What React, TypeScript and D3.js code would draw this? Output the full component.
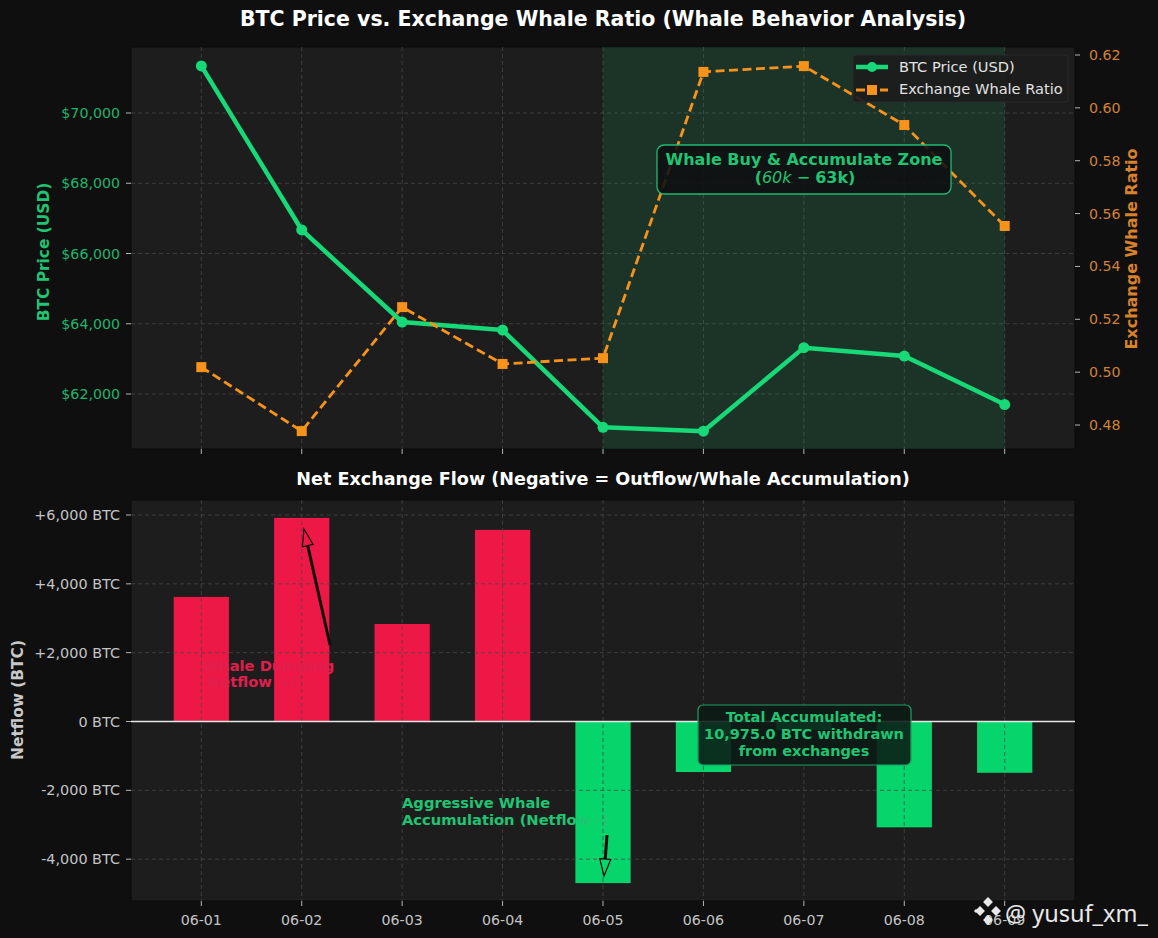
import React, { useEffect, useRef } from 'react';
import * as d3 from 'd3';

const dates = ['06-01', '06-02', '06-03', '06-04', '06-05', '06-06', '06-07', '06-08', '06-09'];
const btcPrice = [71340, 66670, 64050, 63820, 61050, 60940, 63320, 63080, 61700];
const whaleRatio = [0.5019, 0.4777, 0.5246, 0.5031, 0.5053, 0.6136, 0.6158, 0.5935, 0.5553];
const netflow = [3620, 5916, 2834, 5567, -4695, -1468, -250, -3075, -1490];
const priceTicks = [62000, 64000, 66000, 68000, 70000];
const ratioTicks = [0.48, 0.5, 0.52, 0.54, 0.56, 0.58, 0.6, 0.62];
const flowTicks = [-4000, -2000, 0, 2000, 4000, 6000];

const GREEN = '#17d977';
const ORANGE = '#f7931a';
const RED = '#ed1845';
const FONT = '"DejaVu Sans", sans-serif';

const App: React.FC = () => {
  const svgRef = useRef<SVGSVGElement>(null);

  useEffect(() => {
    if (!svgRef.current) return;
    const width = 1158;
    const height = 938;
    const svg = d3.select(svgRef.current)
      .attr('viewBox', `0 0 ${width} ${height}`)
      .style('position', 'fixed')
      .style('left', 0)
      .style('top', 0)
      .style('background', '#0f0f10')
      .html('');

    const left = 131;
    const right = 1075;
    const top1 = 47, bottom1 = 449;
    const top2 = 500, bottom2 = 901;

    const x = d3.scaleLinear().domain([-0.7, 8.7]).range([left, right]);
    const yPrice = d3.scaleLinear().domain([62000, 70000]).range([394, 113]);
    const yRatio = d3.scaleLinear().domain([0.48, 0.62]).range([425, 55]);
    const yFlow = d3.scaleLinear().domain([0, 6000]).range([721.5, 515]);

    const panel = (t: number, b: number) => {
      svg.append('rect').attr('x', left).attr('y', t).attr('width', right - left).attr('height', b - t)
        .attr('fill', '#1d1d1e').attr('stroke', '#0a0a0a').attr('stroke-width', 1);
    };
    const grid = (t: number, b: number, ys: number[]) => {
      const g = svg.append('g').attr('stroke', '#484848').attr('stroke-opacity', 0.85)
        .attr('stroke-width', 0.9).attr('stroke-dasharray', '4,3');
      dates.forEach((_, i) => g.append('line').attr('x1', x(i)).attr('x2', x(i)).attr('y1', t).attr('y2', b));
      ys.forEach(y => g.append('line').attr('x1', left).attr('x2', right).attr('y1', y).attr('y2', y));
    };
    const tick = (x1: number, x2: number, y1: number, y2: number) => {
      svg.append('line').attr('x1', x1).attr('x2', x2).attr('y1', y1).attr('y2', y2)
        .attr('stroke', '#b5b5b5').attr('stroke-width', 1);
    };

    svg.append('text').attr('x', 603).attr('y', 26).attr('text-anchor', 'middle')
      .attr('font-family', FONT).attr('font-size', 20.5).attr('font-weight', 700).attr('fill', '#ffffff')
      .text('BTC Price vs. Exchange Whale Ratio (Whale Behavior Analysis)');

    // top panel
    panel(top1, bottom1);
    grid(top1, bottom1, priceTicks.map(d => yPrice(d)));
    svg.append('rect').attr('x', x(4)).attr('y', top1).attr('width', x(8) - x(4)).attr('height', bottom1 - top1)
      .attr('fill', GREEN).attr('fill-opacity', 0.12);

    priceTicks.forEach(d => {
      tick(left - 5, left, yPrice(d), yPrice(d));
      svg.append('text').attr('x', left - 11).attr('y', yPrice(d) + 5).attr('text-anchor', 'end')
        .attr('font-family', FONT).attr('font-size', 14.2).attr('fill', '#1fb56c')
        .text('$' + d3.format(',')(d));
    });
    ratioTicks.forEach(d => {
      tick(right, right + 5, yRatio(d), yRatio(d));
      svg.append('text').attr('x', right + 14).attr('y', yRatio(d) + 5)
        .attr('font-family', FONT).attr('font-size', 14.2).attr('fill', '#d0823a')
        .text(d.toFixed(2));
    });
    dates.forEach((_, i) => tick(x(i), x(i), bottom1, bottom1 + 5));

    svg.append('text').attr('transform', 'translate(49,252) rotate(-90)').attr('text-anchor', 'middle')
      .attr('font-family', FONT).attr('font-size', 15.4).attr('font-weight', 700).attr('fill', '#1fc573')
      .text('BTC Price (USD)');
    svg.append('text').attr('transform', 'translate(1137,249) rotate(-90)').attr('text-anchor', 'middle')
      .attr('font-family', FONT).attr('font-size', 16).attr('font-weight', 700).attr('fill', '#d9822b')
      .text('Exchange Whale Ratio');

    const priceLine = d3.line<number>().x((_, i) => x(i)).y(d => yPrice(d));
    svg.append('path').attr('d', priceLine(btcPrice)).attr('fill', 'none')
      .attr('stroke', GREEN).attr('stroke-width', 4.5).attr('stroke-linejoin', 'round');
    svg.selectAll('.pt').data(btcPrice).enter().append('circle').attr('class', 'pt')
      .attr('cx', (_, i) => x(i)).attr('cy', d => yPrice(d)).attr('r', 5.5).attr('fill', GREEN);

    const ratioLine = d3.line<number>().x((_, i) => x(i)).y(d => yRatio(d));
    svg.append('path').attr('d', ratioLine(whaleRatio)).attr('fill', 'none')
      .attr('stroke', ORANGE).attr('stroke-width', 2.8).attr('stroke-dasharray', '9,4.5');
    svg.selectAll('.sq').data(whaleRatio).enter().append('rect').attr('class', 'sq')
      .attr('x', (_, i) => x(i) - 5).attr('y', d => yRatio(d) - 5).attr('width', 10).attr('height', 10).attr('fill', ORANGE);

    // legend
    svg.append('rect').attr('x', 853).attr('y', 55).attr('width', 215).attr('height', 47).attr('rx', 3)
      .attr('fill', '#1c1c1d').attr('fill-opacity', 0.92).attr('stroke', '#2b2b2c');
    svg.append('line').attr('x1', 856).attr('x2', 888).attr('y1', 67).attr('y2', 67).attr('stroke', GREEN).attr('stroke-width', 4.5);
    svg.append('circle').attr('cx', 872).attr('cy', 67).attr('r', 5).attr('fill', GREEN);
    svg.append('line').attr('x1', 856).attr('x2', 888).attr('y1', 90).attr('y2', 90).attr('stroke', ORANGE).attr('stroke-width', 2.8).attr('stroke-dasharray', '9,3');
    svg.append('rect').attr('x', 867).attr('y', 85).attr('width', 10).attr('height', 10).attr('fill', ORANGE);
    [['BTC Price (USD)', 72], ['Exchange Whale Ratio', 94]].forEach(([label, y]) => {
      svg.append('text').attr('x', 899).attr('y', y as number)
        .attr('font-family', FONT).attr('font-size', 14.6).attr('fill', '#e2e2e2').text(label as string);
    });

    // zone annotation
    svg.append('rect').attr('x', 657).attr('y', 145).attr('width', 294).attr('height', 49).attr('rx', 7)
      .attr('fill', '#0f0f10').attr('fill-opacity', 0.88).attr('stroke', '#22b873').attr('stroke-width', 1.3);
    svg.append('text').attr('x', 804).attr('y', 165).attr('text-anchor', 'middle')
      .attr('font-family', FONT).attr('font-size', 16).attr('font-weight', 700).attr('fill', '#1fc573')
      .text('Whale Buy & Accumulate Zone');
    const zoneLine = svg.append('text').attr('x', 805).attr('y', 183).attr('text-anchor', 'middle')
      .attr('font-family', FONT).attr('font-size', 16).attr('fill', '#1fc573');
    zoneLine.append('tspan').attr('font-weight', 700).text('(');
    zoneLine.append('tspan').attr('font-style', 'italic').text('60k');
    zoneLine.append('tspan').text(' − ');
    zoneLine.append('tspan').attr('font-weight', 700).text('63k)');

    // bottom panel
    svg.append('text').attr('x', 603).attr('y', 485).attr('text-anchor', 'middle')
      .attr('font-family', FONT).attr('font-size', 17.6).attr('font-weight', 700).attr('fill', '#ffffff')
      .text('Net Exchange Flow (Negative = Outflow/Whale Accumulation)');
    panel(top2, bottom2);

    const barWidth = x(0.55) - x(0);
    svg.selectAll('.bar').data(netflow).enter().append('rect').attr('class', 'bar')
      .attr('x', (_, i) => x(i) - barWidth / 2)
      .attr('y', d => yFlow(Math.max(d, 0)))
      .attr('width', barWidth)
      .attr('height', d => Math.abs(yFlow(d) - yFlow(0)))
      .attr('fill', d => d > 0 ? RED : '#06d56c');
    grid(top2, bottom2, flowTicks.filter(d => d !== 0).map(d => yFlow(d)));
    svg.append('line').attr('x1', left).attr('x2', right).attr('y1', yFlow(0)).attr('y2', yFlow(0))
      .attr('stroke', '#e6e6e6').attr('stroke-width', 1.3);

    flowTicks.forEach(d => {
      tick(left - 5, left, yFlow(d), yFlow(d));
      const label = d === 0 ? '0 BTC' : (d > 0 ? '+' : '') + d3.format(',')(d).replace('−', '-') + ' BTC';
      svg.append('text').attr('x', left - 11).attr('y', yFlow(d) + 5).attr('text-anchor', 'end')
        .attr('font-family', FONT).attr('font-size', 14.4).attr('fill', '#c4c4c4').text(label);
    });
    dates.forEach((d, i) => {
      tick(x(i), x(i), bottom2, bottom2 + 5);
      svg.append('text').attr('x', x(i)).attr('y', 925).attr('text-anchor', 'middle')
        .attr('font-family', FONT).attr('font-size', 14.2).attr('fill', '#c4c4c4').text(d);
    });
    svg.append('text').attr('transform', 'translate(23,700) rotate(-90)').attr('text-anchor', 'middle')
      .attr('font-family', FONT).attr('font-size', 15.4).attr('font-weight', 700).attr('fill', '#c8c8c8')
      .text('Netflow (BTC)');

    // annotations
    [['Whale Dumping', 203, 671], ['Netflow +)', 208, 687]].forEach(([t, tx, ty]) => {
      svg.append('text').attr('x', tx as number).attr('y', ty as number)
        .attr('font-family', FONT).attr('font-size', 14.7).attr('font-weight', 700).attr('fill', '#e01f4d')
        .text(t as string);
    });
    [['Aggressive Whale', 402, 808], ['Accumulation (Netflow -)', 402, 825]].forEach(([t, tx, ty]) => {
      svg.append('text').attr('x', tx as number).attr('y', ty as number)
        .attr('font-family', FONT).attr('font-size', 14.7).attr('font-weight', 700).attr('fill', '#1fc573')
        .text(t as string);
    });

    // arrows
    const arrow = (x0: number, y0: number, x1: number, y1: number, fill: string) => {
      const a = Math.atan2(y1 - y0, x1 - x0);
      const len = 17;
      const w = 5.5;
      const bx = x1 - Math.cos(a) * len;
      const by = y1 - Math.sin(a) * len;
      svg.append('line').attr('x1', x0).attr('y1', y0).attr('x2', bx).attr('y2', by)
        .attr('stroke', '#120808').attr('stroke-width', 3);
      const pts = [
        [x1, y1],
        [bx - Math.sin(a) * w, by + Math.cos(a) * w],
        [bx + Math.sin(a) * w, by - Math.cos(a) * w],
      ];
      svg.append('polygon').attr('points', pts.map(p => p.join(',')).join(' '))
        .attr('fill', fill).attr('stroke', '#120808').attr('stroke-width', 1.2);
    };
    arrow(330, 645, 304, 529, RED);
    arrow(607, 835, 604, 876, '#06d56c');

    // total box
    svg.append('rect').attr('x', 698).attr('y', 705).attr('width', 213).attr('height', 60).attr('rx', 5)
      .attr('fill', '#0b1a14').attr('fill-opacity', 0.88).attr('stroke', '#1f9d66').attr('stroke-width', 1.2);
    ['Total Accumulated:', '10,975.0 BTC withdrawn', 'from exchanges'].forEach((t, i) => {
      svg.append('text').attr('x', 804).attr('y', 722 + i * 17).attr('text-anchor', 'middle')
        .attr('font-family', FONT).attr('font-size', 14.5).attr('font-weight', 700).attr('fill', '#1fc573').text(t);
    });

    // watermark
    svg.append('text').attr('x', 1005).attr('y', 922)
      .attr('font-family', '"Noto Sans", sans-serif').attr('font-size', 23.5).attr('fill', '#e8e8e8')
      .text('@ yusuf_xm_');
    const wm = svg.append('g').attr('transform', 'translate(988,911)').attr('fill', '#e8e8e8');
    [[0, -9], [-8, 0], [8, 0], [0, 9]].forEach(([dx, dy]) => {
      wm.append('rect').attr('x', dx - 3.5).attr('y', dy - 3.5).attr('width', 7).attr('height', 7)
        .attr('transform', `rotate(45 ${dx} ${dy})`);
    });
    wm.append('rect').attr('x', -13.5).attr('y', -1.5).attr('width', 3).attr('height', 3).attr('transform', 'rotate(45 -12 0)');
  }, []);

  return <svg ref={svgRef} width={1158} height={938}></svg>;
};

export default App;
